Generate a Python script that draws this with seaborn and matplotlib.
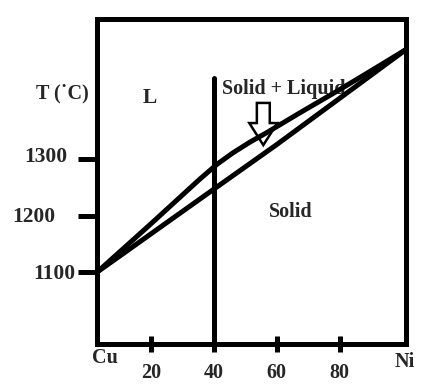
import matplotlib
matplotlib.use("Agg")
import matplotlib.pyplot as plt
import matplotlib.patches as mpatches
import pandas as pd
import seaborn as sns

# ---- data (composition in wt% Ni, temperature in °C) ----
liquidus_x = [2.9, 19.7, 35.6, 41, 46, 51.4, 56.8, 61.9, 67.3, 78.4, 89.5, 101]
liquidus_t = [1100, 1184, 1265, 1291, 1311, 1330, 1347, 1364, 1382, 1418, 1455, 1494]
solidus_x = [2.9, 40, 60, 101]
solidus_t = [1100, 1247, 1326, 1494]
alloy_x = [40, 40]
alloy_t = [973, 1443]
x_ticks = [20, 40, 60, 80]
x_tick_labels = ["20", "40", "60", "80"]
y_ticks = [1300, 1200, 1100]
y_tick_labels = ["1300", "1200", "1100"]
end_labels = ["Cu", "Ni"]
y_title = "T (\u02d9C)"
region_labels = ["L", "Solid + Liquid", "Solid"]

sns.set_style("white")
plt.rcParams["font.family"] = ["Liberation Serif", "DejaVu Serif"]
plt.rcParams["font.weight"] = "bold"

fig = plt.figure(figsize=(4.32, 3.87), dpi=100)
ax = fig.add_axes([97 / 432, 43 / 387, 309 / 432, 325 / 387])
ax.set_xlim(2.9, 101)
ax.set_ylim(973, 1548)

lw = 3.6
df_liq = pd.DataFrame({"x": liquidus_x, "T": liquidus_t})
df_sol = pd.DataFrame({"x": solidus_x, "T": solidus_t})
df_alloy = pd.DataFrame({"x": alloy_x, "T": alloy_t})
for d in (df_liq, df_sol, df_alloy):
    sns.lineplot(data=d, x="x", y="T", ax=ax, color="black", lw=lw,
                 sort=False, estimator=None, zorder=4)

for s in ax.spines.values():
    s.set_visible(True)
    s.set_color("black")
    s.set_linewidth(lw)

ax.set_xlabel("")
ax.set_ylabel("")

# ticks
ax.set_xticks(x_ticks, x_tick_labels)
ax.set_yticks(y_ticks, [""] * len(y_ticks))
ax.tick_params(axis="x", direction="inout", length=11, width=lw, pad=8,
               labelsize=14.5, color="black", bottom=True)
ax.tick_params(axis="y", direction="out", length=13.7, width=lw,
               color="black", left=True, labelleft=False)
for lab in ax.get_xticklabels():
    lab.set_fontweight("bold")

fs = 14.5
# y tick labels (hand-placed like the reference)
y_dx = [-30, -42, -22]
y_dy = [-3, -6, -7]
for v, t, dx, dy in zip(y_ticks, y_tick_labels, y_dx, y_dy):
    ax.annotate(t, xy=(0, v), xycoords=("axes fraction", "data"),
                xytext=(dx, dy), textcoords="offset pixels",
                ha="right", va="baseline", fontsize=15.5, fontweight="bold",
                annotation_clip=False)

# Cu / Ni end labels
ax.annotate(end_labels[0], xy=(0, 0), xycoords="axes fraction",
            xytext=(8, -19), textcoords="offset pixels",
            ha="center", va="baseline", fontsize=fs, fontweight="bold",
            annotation_clip=False)
ax.annotate(end_labels[1], xy=(1, 0), xycoords="axes fraction",
            xytext=(-1, -23), textcoords="offset pixels",
            ha="center", va="baseline", fontsize=fs, fontweight="bold",
            annotation_clip=False)

# temperature title
ax.annotate(y_title, xy=(0, 1), xycoords="axes fraction",
            xytext=(-35, -79), textcoords="offset pixels",
            ha="center", va="baseline", fontsize=fs, fontweight="bold",
            annotation_clip=False)

# region labels
ax.text(19.7, 1400, region_labels[0], ha="center", va="baseline",
        fontsize=15.5, fontweight="bold", zorder=3)
ax.text(42.5, 1415, region_labels[1], ha="left", va="baseline",
        fontsize=fs, fontweight="bold", zorder=3)
ax.text(64.4, 1197, region_labels[2], ha="center", va="baseline",
        fontsize=fs, fontweight="bold", zorder=3)

# hollow arrow pointing at the two-phase region
arrow = mpatches.FancyArrow(55.7, 1399.5, 0, -74.6, width=4.1, head_width=8.9,
                            head_length=39, length_includes_head=True,
                            facecolor="white", edgecolor="black", lw=1.8,
                            zorder=2)
ax.add_patch(arrow)

fig.savefig("out.png", dpi=100)
